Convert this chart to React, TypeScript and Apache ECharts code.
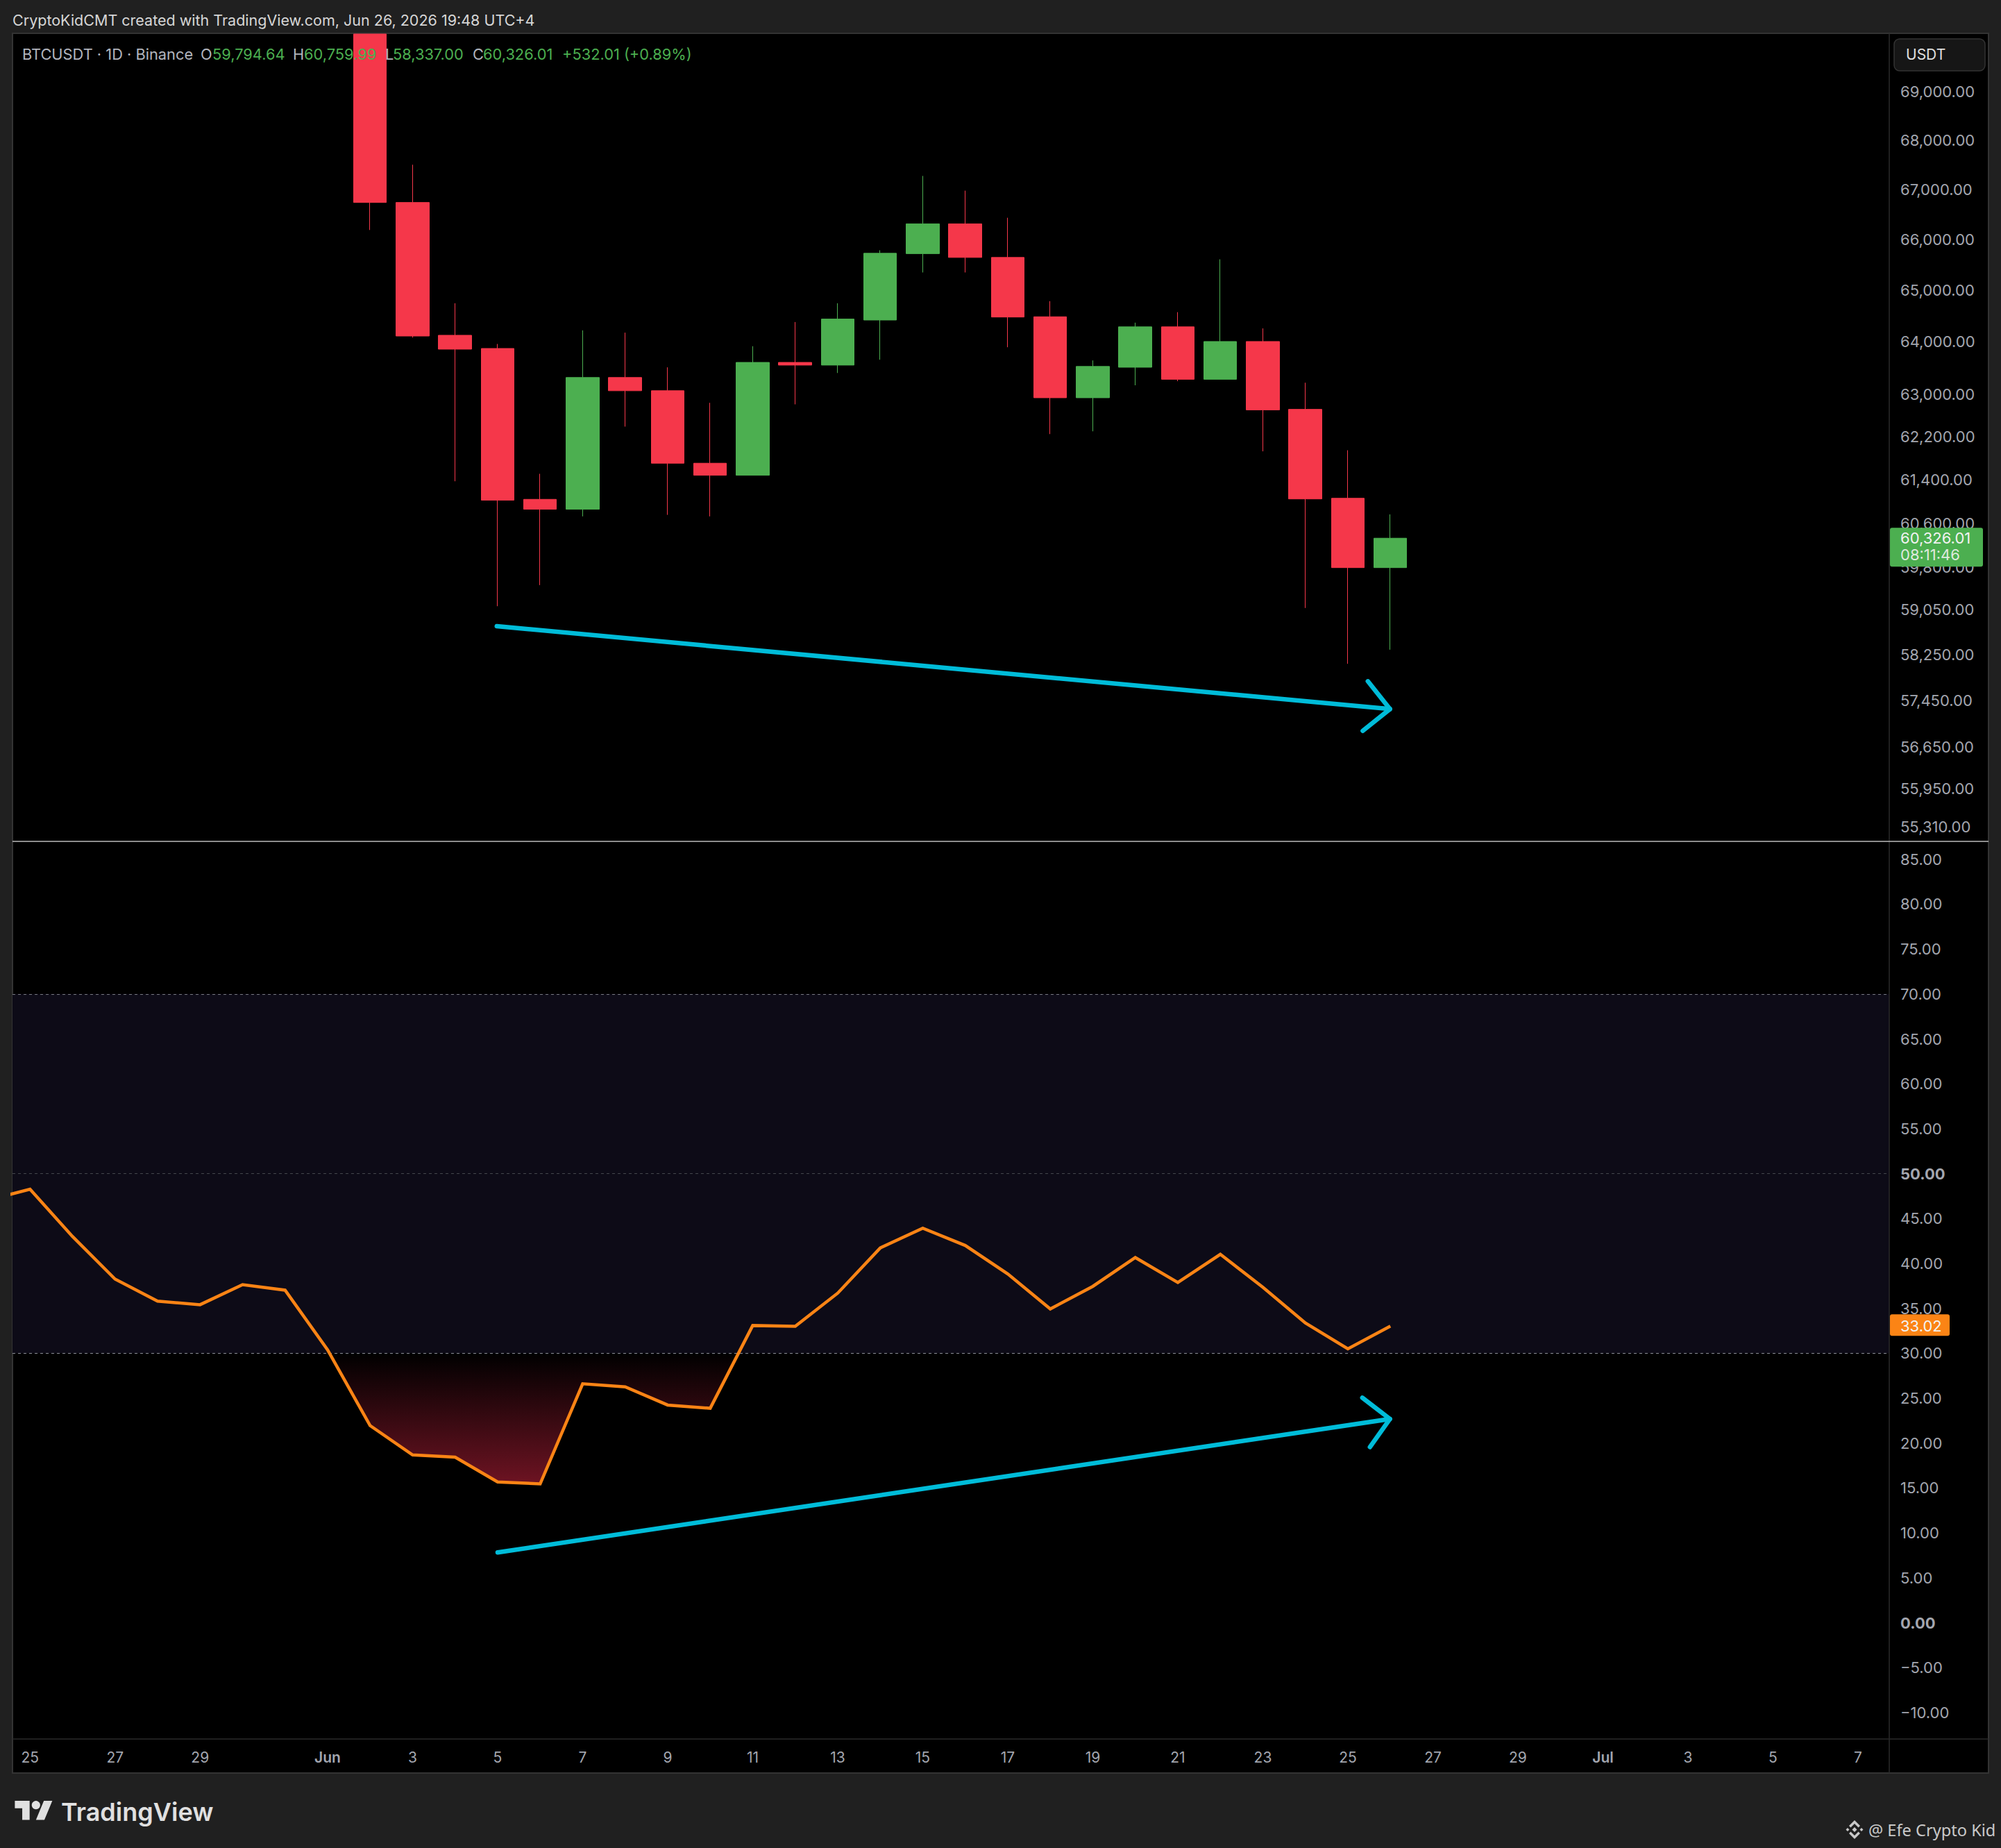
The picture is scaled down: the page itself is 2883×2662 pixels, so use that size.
import React, { useEffect, useRef } from "react";
import * as echarts from "echarts";

const candleDays = [8, 9, 10, 11, 12, 13, 14, 15, 16, 17, 18, 19, 20, 21, 22, 23, 24, 25, 26, 27, 28, 29, 30, 31, 32];
// The first candle leaves the visible range at the top of the price pane.
const opens = [70203, 66735, 64122, 63868, 61035, 60854, 63313, 63062, 61702, 61479, 63601, 63550, 64417, 65716, 66308, 65641, 64480, 62929, 63509, 64285, 63279, 64002, 62710, 61055, 59794.64];
const closes = [66735, 64108, 63855, 61020, 60854, 63313, 63062, 61702, 61479, 63601, 63550, 64436, 65723, 66308, 65641, 64475, 62929, 63524, 64285, 63279, 64002, 62700, 61043, 59794.64, 60326.01];
const lows = [66185, 64078, 61368, 59105, 59481, 60723, 62385, 60751, 60723, 61479, 62804, 63399, 63653, 65345, 65345, 63892, 62245, 62297, 63165, 63243, 63279, 61923, 59073, 58090, 58337];
const highs = [70203, 67497, 64743, 63955, 61506, 64217, 64173, 63507, 62833, 63912, 64378, 64743, 65783, 67270, 66973, 66429, 64784, 63639, 64366, 64570, 65604, 64255, 63214, 61943, 60759.99];

// RSI, first value is 24 May (day -1), one value per day up to 26 Jun (day 32)
const rsiValues = [47.05, 48.26, 43.0, 38.26, 35.81, 35.41, 37.64, 37.03, 30.39, 21.95, 18.68, 18.43, 15.68, 15.46, 26.6, 26.26, 24.24, 23.88, 33.09, 33.0, 36.7, 41.73, 43.93, 42.0, 38.83, 34.94, 37.45, 40.66, 37.88, 41.02, 37.35, 33.38, 30.5, 33.02];

const priceTicks = [69000, 68000, 67000, 66000, 65000, 64000, 63000, 62200, 61400, 60600, 59800, 59050, 58250, 57450, 56650, 55950, 55310];
const rsiTicks = [85, 80, 75, 70, 65, 60, 55, 50, 45, 40, 35, 30, 25, 20, 15, 10, 5, 0, -5, -10];
const timeTicks: [number, string][] = [[0, "25"], [2, "27"], [4, "29"], [7, "Jun"], [9, "3"], [11, "5"], [13, "7"], [15, "9"], [17, "11"], [19, "13"], [21, "15"], [23, "17"], [25, "19"], [27, "21"], [29, "23"], [31, "25"], [33, "27"], [35, "29"], [37, "Jul"], [39, "3"], [41, "5"], [43, "7"]];

const priceArrowLine = [[10.98, 58750], [31.99, 57305]];
const priceArrowHead = [[31.47, 57786], [31.99, 57305], [31.35, 56930]];
const rsiArrowLine = [[11.0, 7.83], [31.99, 22.69]];
const rsiArrowHead = [[31.34, 25.05], [31.99, 22.69], [31.52, 19.56]];

const lastPrice = 60326.01;
const lastRsi = 33.02;

const headerTitle = "CryptoKidCMT created with TradingView.com, Jun 26, 2026 19:48 UTC+4";
const ohlcLabels: [string, number, string][] = [
  ["BTCUSDT · 1D · Binance", 32, "#b2b5be"],
  ["O", 289, "#b2b5be"],
  ["59,794.64", 306, "#4caf50"],
  ["H", 422, "#b2b5be"],
  ["60,759.99", 438, "#4caf50"],
  ["L", 555, "#b2b5be"],
  ["58,337.00", 566, "#4caf50"],
  ["C", 681, "#b2b5be"],
  ["60,326.01", 696, "#4caf50"],
  ["+532.01 (+0.89%)", 810, "#4caf50"],
];

const FONT = "Inter, 'Noto Sans', sans-serif";
const UP = "#4caf50";
const DOWN = "#f5374a";
const CYAN = "#00bcd9";
const ORANGE = "#fb8415";
const AXIS_TEXT = "#a3a6af";

const LEFT = 18, AXIS_X = 2722, RIGHT = 2865, TOP = 48, SPLIT = 1212, TIME_Y = 2505, BOTTOM = 2554;

echarts.graphic.registerShape("tvlogo", echarts.graphic.extendPath("M14 22H7V11H0V4h14v18zM28 22h-8l7.5-18h8L28 22z", {}) as any);
echarts.graphic.registerShape("bnblogo", echarts.graphic.extendPath("M14 10l3.5 3.5L14 17l-3.5-3.5zM1.5 13.5L4 11l2.5 2.5L4 16zM21.5 13.5L24 11l2.5 2.5L24 16zM14 0l8 8-2.5 2.5L14 5 8.5 10.5 6 8zM14 27l-8-8 2.5-2.5L14 22l5.5-5.5L22 19z", {}) as any);

const arrowStyle = { color: CYAN, width: 6.5, cap: "round", join: "round" };

function arrowSeries(name: string, data: number[][], axis: number) {
  return {
    name,
    type: "line",
    xAxisIndex: axis,
    yAxisIndex: axis,
    data,
    symbol: "none",
    silent: true,
    lineStyle: arrowStyle,
    z: 6,
  };
}

function text(t: string, x: number, y: number, size: number, fill: string, extra: any = {}) {
  const { weight, family, align, ...rest } = extra;
  return {
    type: "text",
    x,
    y,
    z: 60,
    silent: true,
    style: {
      text: t,
      fill,
      fontSize: size,
      fontFamily: family || FONT,
      fontWeight: weight || 400,
      align: align || "left",
      verticalAlign: "middle",
    },
    ...rest,
  };
}

export default function App() {
  const ref = useRef<HTMLDivElement>(null);

  useEffect(() => {
    const chart = echarts.init(ref.current!, undefined, { renderer: "svg" });
    const lbl = {
      color: AXIS_TEXT,
      fontSize: 22,
      fontFamily: FONT,
    };
    const xCommon = { type: "value", min: -0.4122, max: 43.735, splitLine: { show: false }, axisLine: { show: false }, axisTick: { show: false } };

    chart.setOption({
      animation: false,
      backgroundColor: "#202020",
      grid: [
        { left: LEFT, top: TOP + 1, width: AXIS_X - LEFT, height: SPLIT - TOP - 1 },
        { left: LEFT, top: SPLIT + 1, width: AXIS_X - LEFT, height: TIME_Y - SPLIT - 1 },
      ],
      xAxis: [
        { ...xCommon, gridIndex: 0, axisLabel: { show: false } },
        {
          ...xCommon,
          gridIndex: 1,
          axisLabel: {
            ...lbl,
            fontSize: 21,
            margin: 16,
            customValues: timeTicks.map((t) => t[0]),
            hideOverlap: false,
            formatter: (v: number) => {
              const t = timeTicks.find((k) => k[0] === v);
              if (!t) return "";
              return t[1] === "Jun" || t[1] === "Jul" ? `{b|${t[1]}}` : t[1];
            },
            rich: { b: { fontSize: 21, fontFamily: FONT, fontWeight: 600, color: AXIS_TEXT } },
          },
        },
      ],
      yAxis: [
        {
          type: "log",
          logBase: Math.E,
          gridIndex: 0,
          position: "right",
          min: 55069,
          max: 70203,
          splitLine: { show: false },
          axisLine: { show: false },
          axisTick: { show: false },
          axisLabel: {
            ...lbl,
            margin: 16,
            customValues: priceTicks,
            formatter: (v: number) => (Math.round(v / 10) * 10).toLocaleString("en-US", { minimumFractionDigits: 2 }),
          },
        },
        {
          type: "value",
          gridIndex: 1,
          position: "right",
          min: -12.94,
          max: 86.91,
          splitLine: { show: false },
          axisLine: { show: false },
          axisTick: { show: false },
          axisLabel: {
            ...lbl,
            margin: 16,
            customValues: rsiTicks,
            formatter: (v: number) => {
              const s = Math.abs(v).toFixed(2);
              if (v === 0 || v === 50) return `{b|${s}}`;
              return v < 0 ? `\u2212${s}` : s;
            },
            rich: { b: { fontSize: 22, fontFamily: FONT, fontWeight: 700, color: AXIS_TEXT } },
          },
        },
      ],
      series: [
        {
          name: "BTCUSDT",
          type: "candlestick",
          xAxisIndex: 0,
          yAxisIndex: 0,
          barWidth: 48,
          data: candleDays.map((d, i) => [d, opens[i], closes[i], lows[i], highs[i]]),
          itemStyle: { color: UP, color0: DOWN, borderColor: UP, borderColor0: DOWN, borderWidth: 1 },
          z: 3,
        },
        arrowSeries("Price trend", priceArrowLine, 0),
        arrowSeries("Price trend head", priceArrowHead, 0),
        {
          name: "RSI",
          type: "line",
          xAxisIndex: 1,
          yAxisIndex: 1,
          data: rsiValues.map((v, i) => [i - 1, v]),
          symbol: "none",
          silent: true,
          lineStyle: { color: ORANGE, width: 4.5, join: "miter" },
          areaStyle: {
            origin: 30,
            opacity: 1,
            color: new echarts.graphic.LinearGradient(0, 1949, 0, 2137, [
              { offset: 0, color: "rgba(115,20,36,0)" },
              { offset: 1, color: "rgba(115,20,36,0.95)" },
            ], true),
          },
          markArea: {
            silent: true,
            itemStyle: { color: "#0d0b17" },
            data: [[{ yAxis: 70 }, { yAxis: 30 }]],
          },
          markLine: {
            silent: true,
            symbol: "none",
            animation: false,
            label: { show: false },
            data: [
              { yAxis: 70, lineStyle: { color: "#777a82", type: [4, 4], width: 1 } },
              { yAxis: 50, lineStyle: { color: "#44464c", type: [4, 4], width: 1 } },
              { yAxis: 30, lineStyle: { color: "#8a8d95", type: [4, 4], width: 1 } },
            ],
          },
          z: 5,
        },
        arrowSeries("RSI trend", rsiArrowLine, 1),
        arrowSeries("RSI trend head", rsiArrowHead, 1),
      ],
    });

    const priceY = chart.convertToPixel({ yAxisIndex: 0 }, lastPrice) as number;
    const rsiY = chart.convertToPixel({ yAxisIndex: 1 }, lastRsi) as number;

    chart.setOption({
      graphic: [
        { type: "rect", z: -10, silent: true, shape: { x: LEFT, y: TOP, width: RIGHT - LEFT, height: BOTTOM - TOP }, style: { fill: "#000", stroke: "#333333", lineWidth: 2 } },
        { type: "line", z: 1, silent: true, shape: { x1: AXIS_X, y1: TOP, x2: AXIS_X, y2: BOTTOM }, style: { stroke: "#2a2a2a", lineWidth: 1.5 } },
        { type: "line", z: 1, silent: true, shape: { x1: LEFT, y1: TIME_Y, x2: RIGHT, y2: TIME_Y }, style: { stroke: "#2a2a2a", lineWidth: 1.5 } },
        { type: "line", z: 20, silent: true, shape: { x1: LEFT, y1: SPLIT, x2: RIGHT, y2: SPLIT }, style: { stroke: "#bdbdbd", lineWidth: 1.5 } },

        text(headerTitle, 18, 28.5, 21.5, "#d6d6d6"),
        ...ohlcLabels.map((o) => text(o[0], o[1], 78, 21.8, o[2])),

        { type: "rect", z: 40, silent: true, shape: { x: 2729, y: 56, width: 131, height: 46, r: 8 }, style: { fill: "#161616", stroke: "#333333", lineWidth: 1.5 } },
        text("USDT", 2746, 78, 21, "#e0e0e0"),

        { type: "rect", z: 50, silent: true, shape: { x: 2723, y: priceY - 15, width: 134, height: 56, r: 3 }, style: { fill: UP } },
        text("60,326.01", 2738, priceY - 0.5, 22, "#f2f2f2"),
        text("08:11:46", 2738, priceY + 23.5, 22, "#dfe9df"),

        { type: "rect", z: 50, silent: true, shape: { x: 2723, y: rsiY - 17, width: 86, height: 31, r: 3 }, style: { fill: ORANGE } },
        text("33.02", 2738, rsiY, 22, "#f2f2f2"),

        { type: "tvlogo", z: 60, silent: true, x: 21.4, y: 2588, scaleX: 1.52, scaleY: 1.52, style: { fill: "#e0e0e0" } },
        { type: "circle", z: 60, silent: true, shape: { cx: 21.4 + 20 * 1.52, cy: 2588 + 8 * 1.52, r: 4 * 1.52 }, style: { fill: "#e0e0e0" } },
        text("TradingView", 88, 2610, 36, "#e0e0e0", { weight: 600 }),

        { type: "bnblogo", z: 60, silent: true, x: 2658, y: 2622, style: { fill: "#c9c9c9" } },
        text("@ Efe Crypto Kid", 2692, 2636, 23.6, "#c9c9c9", { family: "'Noto Sans', sans-serif" }),
      ],
    });

    return () => chart.dispose();
  }, []);

  return <div ref={ref} style={{ position: "absolute", left: 0, top: 0, width: 2883, height: 2662 }} />;
}
